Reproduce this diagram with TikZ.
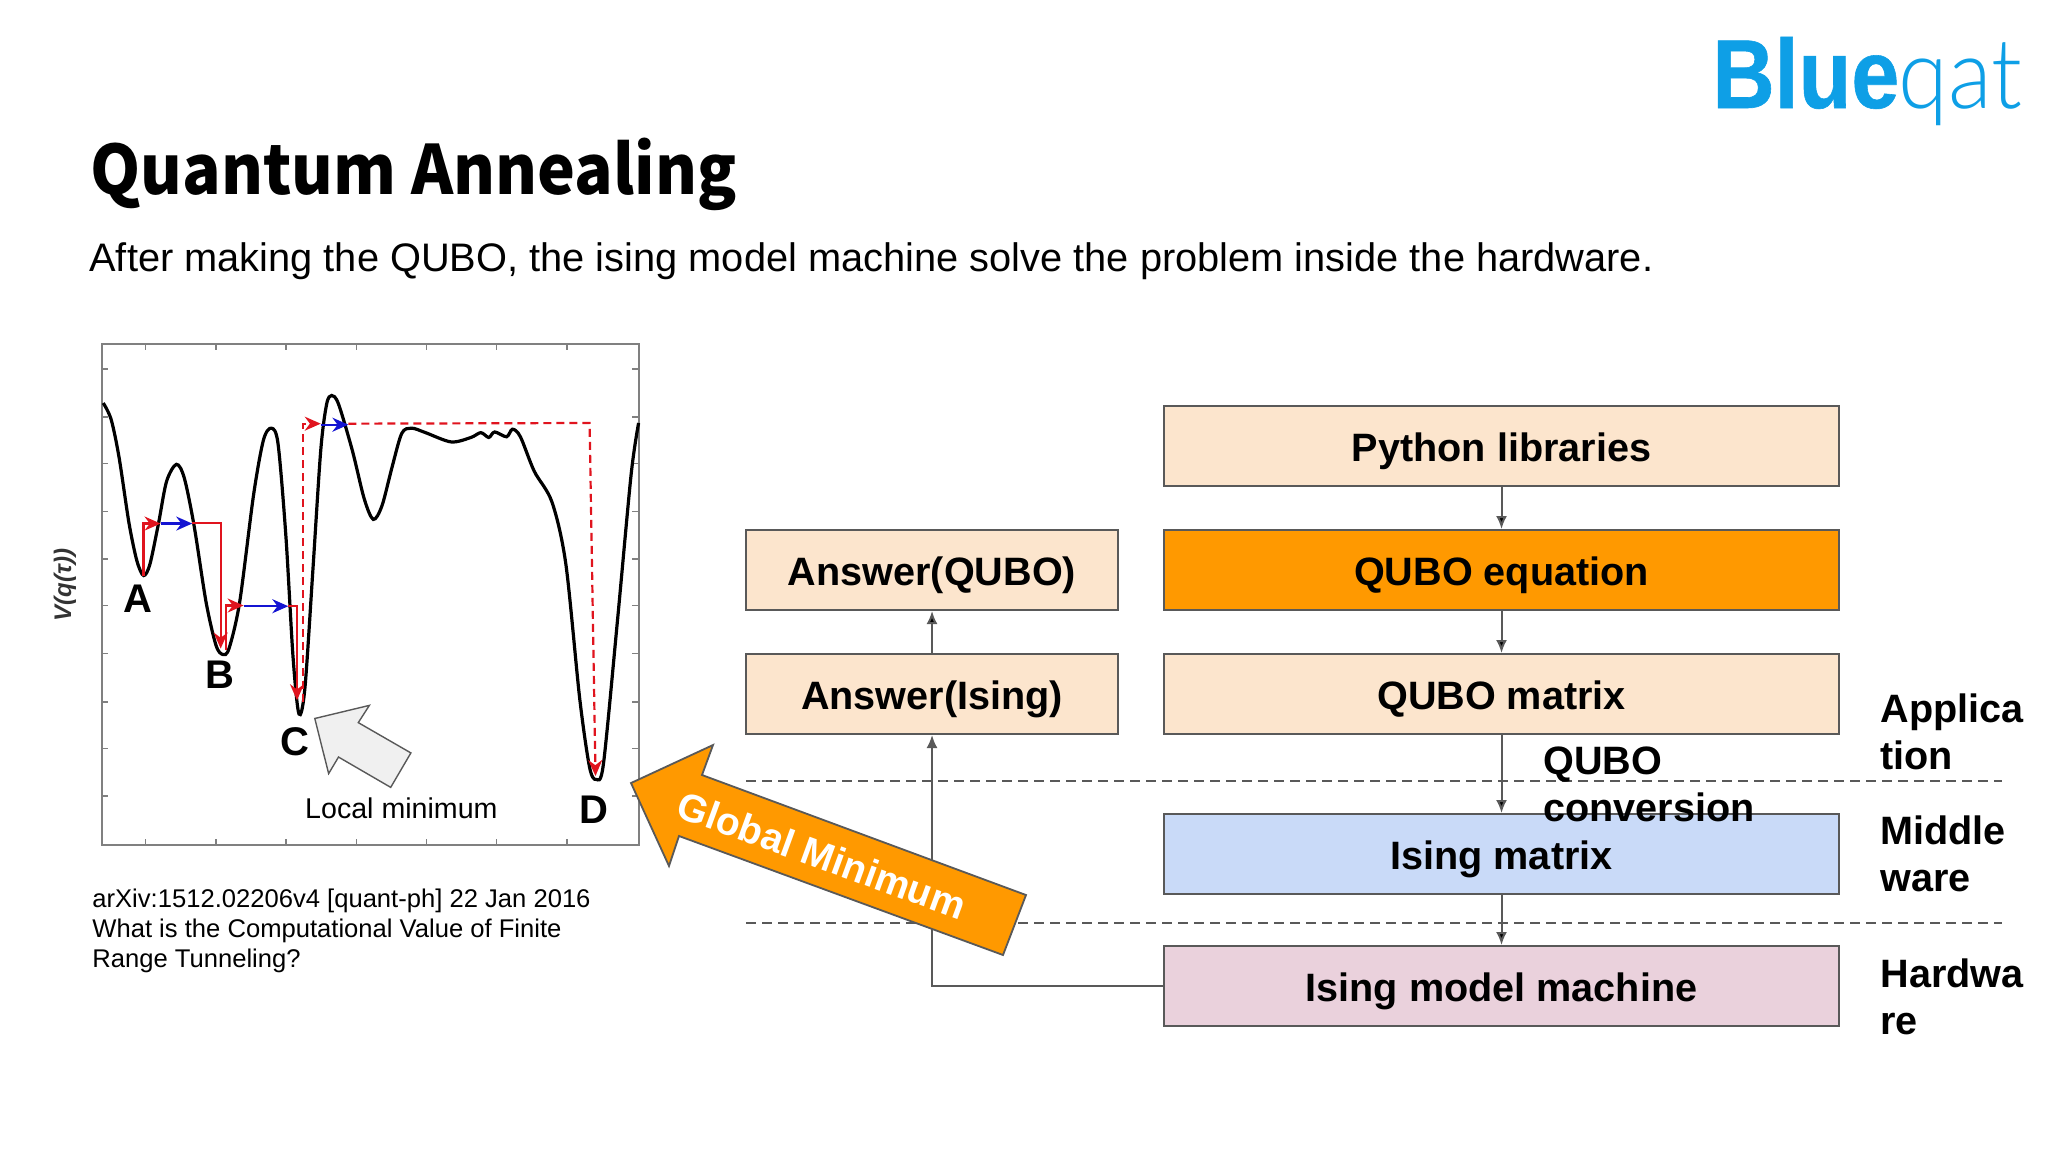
\documentclass[tikz,border=0pt]{standalone}
\usepackage{fontspec}
\setmainfont{Liberation Sans}
\newfontfamily\headfont[FakeStretch=0.94]{Noto Sans CJK JP}
\newfontfamily\logoheavy[FakeStretch=0.88,FakeBold=0.6]{Liberation Sans Bold}
\newfontfamily\logothin[FakeStretch=0.92]{Lato Light}
\usetikzlibrary{arrows.meta,positioning}
\definecolor{peach}{HTML}{FCE5CD}
\definecolor{amber}{HTML}{FF9900}
\definecolor{sky}{HTML}{C9DAF8}
\definecolor{mauve}{HTML}{EAD1DC}
\definecolor{slate}{HTML}{595959}
\definecolor{logoblue}{HTML}{0E9FE6}
\definecolor{hopred}{HTML}{E0141E}
\definecolor{hopblue}{HTML}{1414D2}

\begin{document}
\begin{tikzpicture}[x=0.5pt,y=-0.5pt,>={Latex[length=6.5pt,width=5.5pt]},
					bold text/.style={font=\fontsize{19.8}{23.5}\selectfont\bfseries},
					base node/.style={draw=slate,line width=1pt,bold text,inner sep=0pt,minimum height=40pt,text height=15.6pt,text depth=0pt},
					wide node/.style={base node,minimum width=337.5pt},
					answer node/.style={base node,fill=peach,minimum width=186pt},
					side text/.style={bold text,align=left,anchor=west,inner sep=0pt},
					letter node/.style={font=\fontsize{20}{24}\selectfont\bfseries,inner sep=0pt},
					link/.style={->,draw=slate,line width=1pt},
					layer line/.style={draw=slate,line width=0.9pt,dash pattern=on 5pt off 3pt},
					plot area/.style={shift={(20pt,-165pt)},x=0.1977pt,y=-0.1722pt},
					hop/.style={-{Stealth[length=8pt,width=7pt]},line width=1.1pt,draw=hopred},
					tunnel/.style={-{Stealth[length=8pt,width=7pt]},line width=1.1pt,draw=hopblue}]
	\useasboundingbox (0,0) rectangle (2048,1152);

	% heading
	\node[anchor=base west,inner sep=0pt,font=\headfont\fontsize{34}{40}\selectfont\bfseries] (title) at (90,194) {Quantum Annealing};
	\node[anchor=base west,inner sep=0pt,font=\fontsize{19.9}{24}\selectfont] (subtitle) at (89,271) {After making the QUBO, the ising model machine solve the problem inside the hardware.};
	\node[anchor=base west,inner sep=0pt,text=logoblue,font=\logoheavy\fontsize{49}{50}\selectfont] (logobold) at (1712,108) {Blue};
	\node[anchor=base west,inner sep=0pt,text=logoblue,font=\logothin\fontsize{49}{50}\selectfont] (logolight) at (1898,108) {qat};

	% layer borders
	\coordinate (upperl) at (746,781);
	\coordinate (upperr) at (2002,781);
	\coordinate (lowerl) at (746,923);
	\coordinate (lowerr) at (2002,923);
	\draw[layer line] (upperl) -- (upperr);
	\draw[layer line] (lowerl) -- (lowerr);

	% flow boxes
	\node[wide node,fill=peach] (python) at (1501.5,446) {Python libraries};
	\node[wide node,fill=amber,node distance=62pt] (equation) [below of=python] {QUBO equation};
	\node[wide node,fill=peach,node distance=62pt] (matrix) [below of=equation] {QUBO matrix};
	\node[wide node,fill=sky,node distance=80pt] (ising) [below of=matrix] {Ising matrix};
	\node[wide node,fill=mauve,node distance=66pt] (machine) [below of=ising] {Ising model machine};
	\node[answer node,node distance=284.75pt] (ansqubo) [left of=equation] {Answer(QUBO)};
	\node[answer node,node distance=284.75pt] (ansising) [left of=matrix] {Answer(Ising)};

	\path[link]
	(python) edge (equation)
	(equation) edge (matrix)
	(matrix) edge (ising)
	(ising) edge (machine)
	(ansising) edge (ansqubo);
	\draw[link] (machine.west) -| (ansising.south);

	\node[side text] (conversion) at (1543,784) {QUBO\\conversion};
	\node[side text] (application) at (1880,732) {Applica\\tion};
	\node[side text] (middleware) at (1880,854) {Middle\\ware};
	\node[side text] (hardware) at (1880,997) {Hardwa\\re};

	% tunnelling plot
	\begin{scope}[plot area]
		\draw[draw=gray,line width=1pt] (157,42) rectangle (1514,1494);
		\foreach \x in {267,445,622,800,978,1155,1333} {
			\draw[gray,line width=0.7pt] (\x,42) -- (\x,58);
			\draw[gray,line width=0.7pt] (\x,1494) -- (\x,1478);
		}
		\foreach \y in {113,253,387,527,665,800,940,1080,1215,1353} {
			\draw[gray,line width=0.7pt] (157,\y) -- (173,\y);
			\draw[gray,line width=0.7pt] (1514,\y) -- (1498,\y);
		}
		\draw[black,line width=1.6pt] plot[smooth,tension=0.5] coordinates {
			(160,212) (180,260) (200,370) (225,560) (245,670) (262,713) (278,680) (300,560)
			(320,440) (345,390) (365,430) (390,570) (420,790) (445,915) (462,942) (478,925)
			(505,790) (540,480) (565,320) (585,285) (602,330) (622,600) (640,950) (655,1115)
			(670,1040) (690,700) (710,350) (725,215) (738,190) (755,215) (790,350) (820,490)
			(843,550) (865,510) (890,400) (915,300) (940,285) (975,298) (1040,325) (1090,312)
			(1115,298) (1135,312) (1150,296) (1180,310) (1195,288) (1215,310) (1250,410) (1295,500)
			(1330,680) (1365,1070) (1390,1270) (1407,1305) (1425,1260) (1460,850) (1495,420) (1514,270)};

		\draw[hop] (262,713) -- (262,562) -- (305,562);
		\draw[tunnel] (305,562) -- (385,562);
		\draw[hop] (385,560) -- (457,560) -- (457,925);
		\draw[hop] (470,930) -- (470,800) -- (515,800);
		\draw[tunnel] (515,802) -- (628,802);
		\draw[hop] (628,802) -- (650,802) -- (650,1075);
		\draw[hop,dash pattern=on 4pt off 2.5pt] (665,1080) -- (665,272) -- (710,272);
		\draw[tunnel] (710,275) -- (780,275);
		\draw[hop,dash pattern=on 4pt off 2.5pt] (780,272) -- (1390,270) -- (1405,1295);

		\node[letter node] (a) at (248,780) {A};
		\node[letter node] (b) at (455,1000) {B};
		\node[letter node] (c) at (645,1195) {C};
		\node[letter node] (d) at (1400,1393) {D};

		\draw[draw=slate,fill=black!6,line width=0.7pt] (695,1128) -- (833,1090) -- (805,1140) -- (938,1228)
			-- (887,1328) -- (755,1240) -- (730,1288) -- cycle;
		\node[inner sep=0pt,font=\fontsize{14.3}{17}\selectfont] (localmin) at (914,1390) {Local minimum};
	\end{scope}
	\node[rotate=90,inner sep=0pt,text=black!80,font=\fontsize{12}{14}\selectfont\bfseries\itshape] (vaxis) at (65,585) {V(q(τ))};

	\node[anchor=north west,inner sep=0pt,align=left,font=\fontsize{12.8}{15}\selectfont] (source) at (92,889)
		{arXiv:1512.02206v4 [quant-ph] 22 Jan 2016\\What is the Computational Value of Finite\\Range Tunneling?};

	% big arrow
	\draw[draw=slate,fill=amber,line width=0.9pt] (631,783) -- (713,745) -- (702,775) -- (1026,895)
		-- (1003,955) -- (679,836) -- (669,866) -- cycle;
	\node[rotate=-20,inner sep=0pt,text=white,font=\fontsize{19.5}{22}\selectfont\bfseries] (globalmin) at (822,855) {Global Minimum};
\end{tikzpicture}
\end{document}
